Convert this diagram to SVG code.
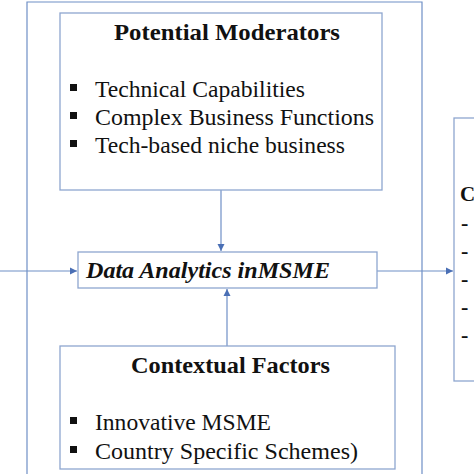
<svg xmlns="http://www.w3.org/2000/svg" width="474" height="474" viewBox="0 0 474 474">
<defs>
<marker id="ah" markerWidth="8" markerHeight="8" refX="7" refY="4" orient="auto" markerUnits="userSpaceOnUse">
<path d="M0,0.5 L7,4 L0,7.5 Z" fill="#4a6fb5"/>
</marker>
<style>
.box{fill:#fff;stroke:#8ea6cf;stroke-width:1.3}
.con{stroke:#6f8fc6;stroke-width:1.2;fill:none}
text{font-family:'Liberation Serif','Times New Roman',serif;fill:#111}
.b{font-weight:bold}
.bul{fill:#111}
</style>
</defs>
<rect width="474" height="474" fill="#fff"/>
<g id="outer">
<path d="M27,480 L27,2 L422,2 L422,480" class="con" stroke="#8ea6cf"/>
</g>
<g id="connectors">
<line x1="0" y1="271" x2="77" y2="271" class="con" marker-end="url(#ah)"/>
<line x1="221" y1="190" x2="221" y2="251" class="con" marker-end="url(#ah)"/>
<line x1="227" y1="346" x2="227" y2="289" class="con" marker-end="url(#ah)"/>
<line x1="377" y1="271" x2="453" y2="271" class="con" marker-end="url(#ah)"/>
</g>
<g id="moderators">
<rect x="60" y="13" width="322" height="177" class="box"/>
<text x="114" y="40" class="b" font-size="23" textLength="226" lengthAdjust="spacingAndGlyphs">Potential Moderators</text>
<rect x="70" y="84" width="7" height="7" class="bul"/>
<rect x="70" y="112" width="7" height="7" class="bul"/>
<rect x="70" y="140" width="7" height="7" class="bul"/>
<text x="95" y="97" font-size="23" textLength="210" lengthAdjust="spacingAndGlyphs">Technical Capabilities</text>
<text x="95" y="125" font-size="23" textLength="279" lengthAdjust="spacingAndGlyphs">Complex Business Functions</text>
<text x="95" y="153" font-size="23" textLength="250" lengthAdjust="spacingAndGlyphs">Tech-based niche business</text>
</g>
<g id="analytics">
<rect x="78" y="252" width="299" height="36" class="box"/>
<text x="86" y="278" class="b" font-style="italic" font-size="23" textLength="244" lengthAdjust="spacingAndGlyphs">Data Analytics inMSME</text>
</g>
<g id="contextual">
<rect x="60" y="346" width="335" height="123" class="box"/>
<text x="131" y="373" class="b" font-size="23" textLength="199" lengthAdjust="spacingAndGlyphs">Contextual Factors</text>
<rect x="70" y="417" width="7" height="7" class="bul"/>
<rect x="70" y="446" width="7" height="7" class="bul"/>
<text x="95" y="430" font-size="23" textLength="176" lengthAdjust="spacingAndGlyphs">Innovative MSME</text>
<text x="95" y="459" font-size="23" textLength="263" lengthAdjust="spacingAndGlyphs">Country Specific Schemes)</text>
</g>
<g id="outcome">
<rect x="454" y="118" width="30" height="263" class="box"/>
<text x="460" y="201" class="b" font-size="21">C</text>
<text x="461" y="230" class="b" font-size="22">-</text>
<text x="461" y="258" class="b" font-size="22">-</text>
<text x="461" y="286" class="b" font-size="22">-</text>
<text x="461" y="314" class="b" font-size="22">-</text>
<text x="461" y="342" class="b" font-size="22">-</text>
</g>
</svg>
